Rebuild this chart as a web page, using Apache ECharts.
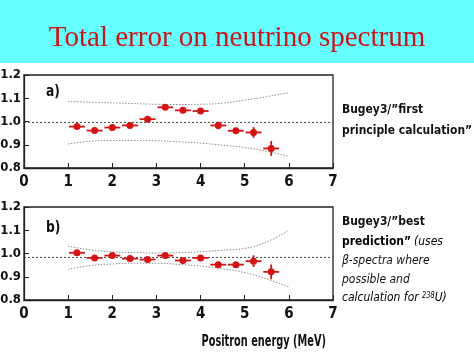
<!DOCTYPE html>
<html>
<head>
<meta charset="utf-8">
<script src="https://cdn.jsdelivr.net/npm/echarts@6/dist/echarts.min.js"></script>
<style>
html,body{margin:0;padding:0;background:#fff;}
#chart{width:474px;height:355px;}
</style>
</head>
<body>
<div id="chart"></div>
<script>
// ---- data ----
const energies = [1.2, 1.6, 2.0, 2.4, 2.8, 3.2, 3.6, 4.0, 4.4, 4.8, 5.2, 5.6];
const binHalfWidth = 0.18;
const ratioA = [0.978, 0.961, 0.974, 0.983, 1.010, 1.061, 1.048, 1.045, 0.983, 0.960, 0.953, 0.884];
const errA   = [0.006, 0.006, 0.006, 0.006, 0.006, 0.006, 0.006, 0.006, 0.016, 0.010, 0.023, 0.032];
const ratioB = [1.003, 0.981, 0.991, 0.978, 0.974, 0.991, 0.970, 0.981, 0.952, 0.952, 0.967, 0.921];
const errB   = [0.006, 0.006, 0.006, 0.006, 0.006, 0.006, 0.006, 0.006, 0.012, 0.012, 0.025, 0.032];

const envX = [1, 1.5, 2, 2.5, 3, 3.5, 4, 4.5, 5, 5.5, 6];
const envAUpper = [1.086, 1.083, 1.080, 1.077, 1.074, 1.073, 1.074, 1.079, 1.092, 1.107, 1.124];
const envALower = [0.903, 0.915, 0.918, 0.918, 0.917, 0.913, 0.907, 0.898, 0.888, 0.872, 0.850];
const envBUpper = [1.031, 1.016, 1.007, 1.004, 1.002, 1.003, 1.008, 1.014, 1.022, 1.050, 1.100];
const envBLower = [0.932, 0.948, 0.955, 0.958, 0.958, 0.953, 0.946, 0.934, 0.918, 0.890, 0.856];

const refX = [0, 7];
const refA = 0.996;
const refB = 0.983;

const xTicks = [0, 1, 2, 3, 4, 5, 6, 7];
const yTicks = [0.8, 0.9, 1.0, 1.1, 1.2];

const titleText = 'Total error on neutrino spectrum';
const xAxisTitle = 'Positron energy (MeV)';

// ---- chart ----
const RED = '#d41414';
const SANS = "'DejaVu Sans Condensed', 'Liberation Sans Narrow', 'Liberation Sans', sans-serif";
const chart = echarts.init(document.getElementById('chart'), null, {renderer: 'canvas'});
const labelFont = {fontFamily: SANS, fontWeight: 'bold', fontSize: 13, color: '#111'};

function makeX(i) {
  return {
    type: 'value', gridIndex: i, min: xTicks[0], max: xTicks[xTicks.length - 1], interval: 1,
    axisLine: {show: true, lineStyle: {color: '#222', width: 1.3}},
    axisTick: {show: true, inside: true, length: 5, lineStyle: {color: '#222', width: 1}},
    axisLabel: Object.assign({}, labelFont, {margin: 7, fontSize: 15}),
    splitLine: {show: false}
  };
}
function makeY(i) {
  return {
    type: 'value', gridIndex: i, min: yTicks[0], max: yTicks[yTicks.length - 1], interval: 0.1,
    axisLine: {show: true, lineStyle: {color: '#222', width: 1.3}},
    axisTick: {show: true, inside: true, length: 5, lineStyle: {color: '#222', width: 1}},
    axisLabel: Object.assign({margin: 3, formatter: v => v.toFixed(1)}, labelFont),
    splitLine: {show: false}
  };
}
function errSeries(i, ys, es) {
  return {
    type: 'custom', xAxisIndex: i, yAxisIndex: i, z: 5,
    data: energies.map((e, k) => [e, ys[k], binHalfWidth, es[k]]),
    encode: {x: 0, y: 1},
    renderItem: function (params, api) {
      const x = api.value(0), y = api.value(1), ex = api.value(2), ey = api.value(3);
      const l = api.coord([x - ex, y]), r = api.coord([x + ex, y]);
      const t = api.coord([x, y + ey]), b = api.coord([x, y - ey]);
      const c = api.coord([x, y]);
      return {type: 'group', children: [
        {type: 'line', shape: {x1: l[0], y1: l[1], x2: r[0], y2: r[1]}, style: {stroke: RED, lineWidth: 1.8}},
        {type: 'line', shape: {x1: t[0], y1: t[1], x2: b[0], y2: b[1]}, style: {stroke: RED, lineWidth: 1.8}},
        {type: 'circle', shape: {cx: c[0], cy: c[1], r: 3.5}, style: {fill: RED}}
      ]};
    }
  };
}
function envSeries(i, ys) {
  return {
    type: 'line', xAxisIndex: i, yAxisIndex: i, smooth: true, symbol: 'none', silent: true,
    data: envX.map((x, k) => [x, ys[k]]),
    lineStyle: {color: '#8f8f8f', width: 1, type: [1.5, 1.5]}
  };
}
function refSeries(i, v) {
  return {
    type: 'line', xAxisIndex: i, yAxisIndex: i, symbol: 'none', silent: true,
    data: refX.map(x => [x, v]),
    lineStyle: {color: '#444', width: 1, type: [2, 2]}
  };
}
const txt = (x, y, text, extra, sx) => ({type: 'text', x: x, y: y, scaleX: sx || 1, style: Object.assign({
  text: text, fontFamily: SANS, fontWeight: 'bold', fontSize: 13, fill: '#111', textVerticalAlign: 'middle'}, extra || {})});

const option = {
  backgroundColor: '#ffffff',
  animation: false,
  title: {
    text: titleText, left: 'center', top: 19,
    textStyle: {fontFamily: 'Liberation Serif', fontWeight: 'normal', fontSize: 29, color: '#c8161c'}
  },
  grid: [
    {left: 24, right: 141, top: 75, height: 93, show: true, borderColor: '#222', borderWidth: 1.3, containLabel: false, outerBoundsMode: 'none'},
    {left: 24, right: 141, top: 207, height: 93, show: true, borderColor: '#222', borderWidth: 1.3, containLabel: false, outerBoundsMode: 'none'}
  ],
  xAxis: [makeX(0), makeX(1)],
  yAxis: [makeY(0), makeY(1)],
  series: [
    refSeries(0, refA), envSeries(0, envAUpper), envSeries(0, envALower), errSeries(0, ratioA, errA),
    refSeries(1, refB), envSeries(1, envBUpper), envSeries(1, envBLower), errSeries(1, ratioB, errB)
  ],
  graphic: [
    {type: 'rect', z: -10, shape: {x: 0, y: 0, width: 474, height: 63}, style: {fill: '#66ffff'}},
    txt(46, 92, 'a)', {fontSize: 16}, 0.85),
    txt(46, 228, 'b)', {fontSize: 16}, 0.85),
    txt(326, 342, xAxisTitle, {fontSize: 16, textAlign: 'right'}, 0.68),
    txt(342, 110, 'Bugey3/\u201dfirst', {fontSize: 13}, 0.92),
    txt(342, 131, 'principle calculation\u201d', {fontSize: 13}, 0.92),
    txt(342, 222, 'Bugey3/\u201dbest', {fontSize: 13}, 0.92),
    {type: 'text', x: 342, y: 242, scaleX: 0.92, style: {
      text: '{b|prediction\u201d} {i|(uses}', textVerticalAlign: 'middle',
      rich: {
        b: {fontFamily: SANS, fontWeight: 'bold', fontSize: 13, color: '#111'},
        i: {fontFamily: SANS, fontStyle: 'italic', fontSize: 13, color: '#111'}
      }
    }},
    txt(342, 261, '\u03b2-spectra where', {fontWeight: 'normal', fontStyle: 'italic', fontSize: 13}, 0.92),
    txt(342, 280, 'possible and', {fontWeight: 'normal', fontStyle: 'italic', fontSize: 13}, 0.92),
    {type: 'text', x: 342, y: 298, scaleX: 0.92, style: {
      text: '{i|calculation for }{s|238}{i|U)}', textVerticalAlign: 'middle',
      rich: {
        i: {fontFamily: SANS, fontStyle: 'italic', fontSize: 13, color: '#111', verticalAlign: 'bottom'},
        s: {fontFamily: SANS, fontStyle: 'italic', fontSize: 8, color: '#111', verticalAlign: 'top'}
      }
    }}
  ]
};
chart.setOption(option);
</script>
</body>
</html>
